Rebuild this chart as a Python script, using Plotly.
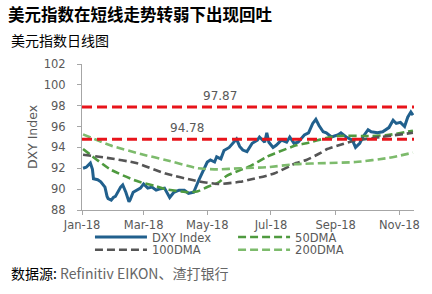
import plotly.graph_objects as go

# ---------------- data ----------------
dxy_dates = ["2018-01-02","2018-01-05","2018-01-09","2018-01-11","2018-01-12","2018-01-16","2018-01-19",
             "2018-01-23","2018-01-25","2018-01-26","2018-01-29","2018-01-31","2018-02-02","2018-02-07",
             "2018-02-09","2018-02-12","2018-02-15","2018-02-16","2018-02-19","2018-02-22","2018-02-26",
             "2018-03-01","2018-03-05","2018-03-09","2018-03-13","2018-03-16","2018-03-21","2018-03-26",
             "2018-03-30","2018-04-04","2018-04-09","2018-04-13","2018-04-18","2018-04-23","2018-04-27",
             "2018-05-01","2018-05-04","2018-05-08","2018-05-10","2018-05-14","2018-05-17","2018-05-22",
             "2018-05-29","2018-06-01","2018-06-04","2018-06-08","2018-06-13","2018-06-18","2018-06-20",
             "2018-06-25","2018-06-27","2018-06-29","2018-07-03","2018-07-06","2018-07-11","2018-07-16",
             "2018-07-19","2018-07-23","2018-07-27","2018-08-02","2018-08-06","2018-08-10","2018-08-13",
             "2018-08-16","2018-08-20","2018-08-23","2018-08-28","2018-09-03","2018-09-06","2018-09-11",
             "2018-09-17","2018-09-20","2018-09-24","2018-09-27","2018-10-02","2018-10-05","2018-10-11",
             "2018-10-16","2018-10-22","2018-10-26","2018-10-29","2018-11-02","2018-11-06","2018-11-09",
             "2018-11-12","2018-11-14"]
dxy_values = [92.0,92.1,92.5,91.9,91.0,90.9,90.7,
              90.2,89.3,89.1,88.95,89.2,89.3,90.2,
              90.4,89.7,88.8,88.95,89.7,89.9,90.1,
              90.5,90.1,90.2,89.9,90.0,90.1,89.2,
              89.7,89.9,89.9,89.6,89.7,90.9,91.8,
              92.6,92.8,92.6,93.1,92.9,93.7,94.0,
              94.8,94.1,93.75,93.6,94.4,94.7,95.0,
              94.5,95.4,94.5,94.0,94.2,94.7,94.5,
              95.0,94.4,94.5,95.2,95.4,96.3,96.7,
              96.1,95.5,95.4,95.0,95.2,95.4,95.0,
              94.7,94.0,94.4,95.0,95.7,95.5,95.4,
              95.5,95.9,96.6,96.3,96.4,96.0,96.9,
              97.4,97.1]

dma50_dates = ["2018-01-02","2018-01-28","2018-02-22","2018-03-12","2018-03-22","2018-04-13","2018-04-22",
               "2018-05-01","2018-05-11","2018-05-20","2018-06-01","2018-06-11","2018-06-27","2018-07-04",
               "2018-07-25","2018-08-04","2018-08-23","2018-09-04","2018-10-06","2018-10-22","2018-11-14"]
dma50_values = [93.85,91.9,90.8,90.3,90.0,89.7,89.8,
                90.2,90.6,91.3,91.8,92.2,93.1,93.4,
                94.2,94.4,94.9,95.1,95.1,95.2,95.6]

dma100_dates = ["2018-01-02","2018-01-25","2018-02-22","2018-03-22","2018-04-20","2018-05-11","2018-06-01",
                "2018-07-04","2018-07-25","2018-08-04","2018-08-18","2018-08-23","2018-09-04","2018-09-17",
                "2018-10-14","2018-11-14"]
dma100_values = [93.3,93.0,92.5,91.5,90.8,90.5,90.7,
                 91.5,92.5,92.8,93.5,93.8,94.2,94.6,
                 95.0,95.4]

dma200_dates = ["2018-01-02","2018-01-28","2018-03-01","2018-03-22","2018-04-22","2018-05-11","2018-06-01",
                "2018-06-27","2018-07-25","2018-08-23","2018-09-20","2018-10-22","2018-11-14"]
dma200_values = [95.25,94.2,93.3,92.8,92.0,91.9,92.0,
                 92.1,92.4,92.5,92.6,93.0,93.5]

levels = [97.87, 94.78]
level_label_dates = ["2018-05-13", "2018-04-12"]

x_range = ["2018-01-01", "2018-11-15"]
y_range = [88, 102]

# ---------------- figure ----------------
AX = "#595959"
FONT = "DejaVu Sans, Noto Sans CJK SC, sans-serif"

fig = go.Figure()

fig.add_trace(go.Scatter(x=dxy_dates, y=dxy_values, name="DXY Index", mode="lines", showlegend=True,
                         line=dict(color="#21608d", width=3), legend="legend"))
fig.add_trace(go.Scatter(x=dma50_dates, y=dma50_values, name="50DMA", mode="lines", showlegend=True,
                         line=dict(color="#4f9a3f", width=2.6, dash="8px,4px", shape="spline", smoothing=0.6),
                         legend="legend2"))
fig.add_trace(go.Scatter(x=dma100_dates, y=dma100_values, name="100DMA", mode="lines", showlegend=True,
                         line=dict(color="#555555", width=2.6, dash="8px,4px", shape="spline", smoothing=0.6),
                         legend="legend3"))
fig.add_trace(go.Scatter(x=dma200_dates, y=dma200_values, name="200DMA", mode="lines", showlegend=True,
                         line=dict(color="#7dbb6c", width=2.6, dash="8px,4px", shape="spline", smoothing=0.6),
                         legend="legend4"))

for lv, d in zip(levels, level_label_dates):
    fig.add_shape(type="line", xref="paper", x0=0, x1=1, yref="y", y0=lv, y1=lv,
                  line=dict(color="#e8141b", width=3, dash="10px,5px"), layer="above")
    fig.add_annotation(x=d, y=lv, text=f"{lv:.2f}", showarrow=False, yanchor="bottom", yshift=2,
                       font=dict(size=12, color=AX, family=FONT))

leg_common = dict(orientation="h", xanchor="left", yanchor="middle", itemwidth=52, visible=True,
                  font=dict(size=11.5, color=AX, family=FONT), bgcolor="rgba(0,0,0,0)",
                  tracegroupgap=0)
fig.update_layout(
    showlegend=True,
    legend=dict(x=0.024, y=-0.185, **leg_common),
    legend2=dict(x=0.455, y=-0.185, **leg_common),
    legend3=dict(x=0.024, y=-0.272, **leg_common),
    legend4=dict(x=0.455, y=-0.272, **leg_common),
)

fig.update_layout(
    width=432, height=294,
    margin=dict(l=82, r=14, t=64, b=84),
    paper_bgcolor="white", plot_bgcolor="white",
    font=dict(family=FONT, color=AX),
    title=dict(text="<b>美元指数在短线走势转弱下出现回吐</b>", xref="container", x=8/432, xanchor="left",
               yref="container", y=1-15/294, yanchor="middle",
               font=dict(size=16.5, color="#000000", family="Noto Sans CJK SC, sans-serif")),
    xaxis=dict(type="date", range=x_range, dtick="M2", tick0="2018-01-01", tickformat="%b-%y",
               showgrid=False, zeroline=False, showline=True, linecolor="#a6a6a6", linewidth=1,
               ticks="outside", ticklen=4, tickcolor="#a6a6a6", ticklabelstandoff=0,
               tickfont=dict(size=11.5, color=AX, family=FONT)),
    yaxis=dict(range=y_range, dtick=2, showgrid=False, zeroline=False, showline=True,
               linecolor="#a6a6a6", linewidth=1, ticks="outside", ticklen=4, tickcolor="#a6a6a6",
               ticklabelstandoff=9,
               tickfont=dict(size=11.5, color=AX, family=FONT),
               title=dict(text="DXY Index", font=dict(size=12.5, color=AX, family=FONT), standoff=3)),
)

fig.add_annotation(xref="paper", yref="paper", x=(8-82)/336, y=(210-40)/146, xanchor="left", yanchor="middle",
                   text="美元指数日线图", showarrow=False,
                   font=dict(size=14, color="#000000", family="Noto Sans CJK SC, sans-serif"))
fig.add_annotation(xref="paper", yref="paper", x=(8-82)/336, y=(210-273)/146, xanchor="left", yanchor="middle",
                   text="<span style='color:#000000'>数据源:</span> Refinitiv EIKON、渣打银行", showarrow=False,
                   font=dict(size=14, color="#666666", family="Noto Sans CJK SC, sans-serif"))

fig.write_html("out.html")
